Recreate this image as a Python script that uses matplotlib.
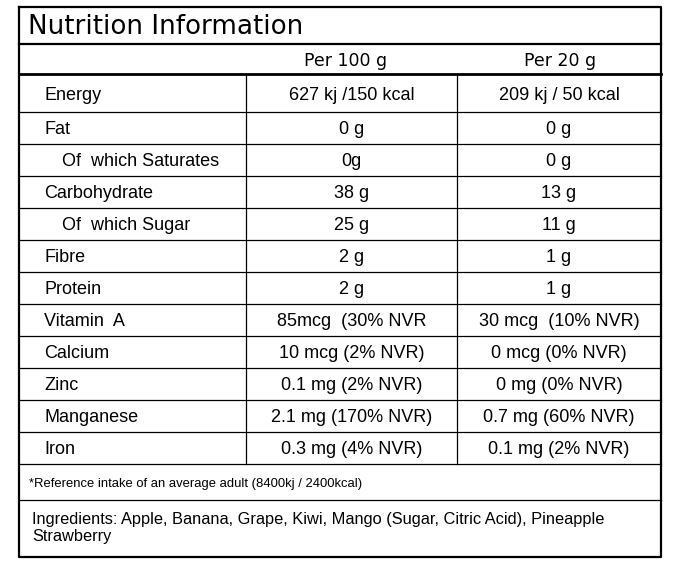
import matplotlib.pyplot as plt

# ── Table content ─────────────────────────────────
TITLE = "Nutrition Information"
HEADERS = ["Per 100 g", "Per 20 g"]
NUTRIENTS = ["Energy", "Fat", "Of  which Saturates", "Carbohydrate", "Of  which Sugar",
             "Fibre", "Protein", "Vitamin  A", "Calcium", "Zinc", "Manganese", "Iron"]
INDENTED = [False, False, True, False, True, False, False, False, False, False, False, False]
PER_100G = ["627 kj /150 kcal", "0 g", "0g", "38 g", "25 g", "2 g", "2 g",
            "85mcg  (30% NVR", "10 mcg (2% NVR)", "0.1 mg (2% NVR)",
            "2.1 mg (170% NVR)", "0.3 mg (4% NVR)"]
PER_20G = ["209 kj / 50 kcal", "0 g", "0 g", "13 g", "11 g", "1 g", "1 g",
           "30 mcg  (10% NVR)", "0 mcg (0% NVR)", "0 mg (0% NVR)",
           "0.7 mg (60% NVR)", "0.1 mg (2% NVR)"]
FOOTNOTE = "*Reference intake of an average adult (8400kj / 2400kcal)"
INGREDIENTS = "Ingredients: Apple, Banana, Grape, Kiwi, Mango (Sugar, Citric Acid), Pineapple\nStrawberry"

# ── Layout (pixel coordinates) ────────────────────
L, R, TOP, BOT = 19, 661, 7, 557
COL1, COL2 = 246, 457
TITLE_LINE, HEAD_LINE = 44, 74
ROW_H = 32
FIRST_ROW_BOTTOM = 112
BODY = "Liberation Sans"
HEAD = "DejaVu Sans"

fig = plt.figure(figsize=(6.8, 5.76), dpi=100)
ax = fig.add_axes([0, 0, 1, 1])
ax.set_xlim(0, 680)
ax.set_ylim(576, 0)
ax.axis("off")

lw = 1.6
# outer frame
ax.plot([L, R, R, L, L], [TOP, TOP, BOT, BOT, TOP], color="black", lw=lw)
ax.plot([L, R], [TITLE_LINE, TITLE_LINE], color="black", lw=lw)
ax.plot([L, R], [HEAD_LINE, HEAD_LINE], color="black", lw=2.0)

n = len(NUTRIENTS)
row_lines = [FIRST_ROW_BOTTOM + ROW_H * i for i in range(n)]
table_bottom = row_lines[-1]
for y in row_lines:
    ax.plot([L, R], [y, y], color="black", lw=0.9)
for x in (COL1, COL2):
    ax.plot([x, x], [HEAD_LINE, table_bottom], color="black", lw=0.9)
foot_line = 500
ax.plot([L, R], [foot_line, foot_line], color="black", lw=0.9)

ax.text(28, 27, TITLE, fontsize=18.8, family=HEAD, va="center", ha="left")
ax.text(346, 61, HEADERS[0], fontsize=12.5, family=HEAD, va="center", ha="center")
ax.text(560, 61, HEADERS[1], fontsize=12.5, family=HEAD, va="center", ha="center")

c1 = (COL1 + COL2) / 2
c2 = (COL2 + R) / 2
for i, (name, ind, a, b) in enumerate(zip(NUTRIENTS, INDENTED, PER_100G, PER_20G)):
    top = HEAD_LINE if i == 0 else row_lines[i - 1]
    yc = (top + row_lines[i]) / 2 + 2
    ax.text(62 if ind else 44, yc, name, fontsize=13, family=BODY, va="center", ha="left")
    ax.text(c1, yc, a, fontsize=13, family=BODY, va="center", ha="center")
    ax.text(c2, yc, b, fontsize=13, family=BODY, va="center", ha="center")

ax.text(29, (table_bottom + foot_line) / 2 + 2, FOOTNOTE, fontsize=9.4, family=BODY,
        va="center", ha="left")
ax.text(32, 528, INGREDIENTS, fontsize=11.8, family=BODY, va="center", ha="left",
        linespacing=1.2)

fig.savefig("out.png", dpi=100, facecolor="white")
